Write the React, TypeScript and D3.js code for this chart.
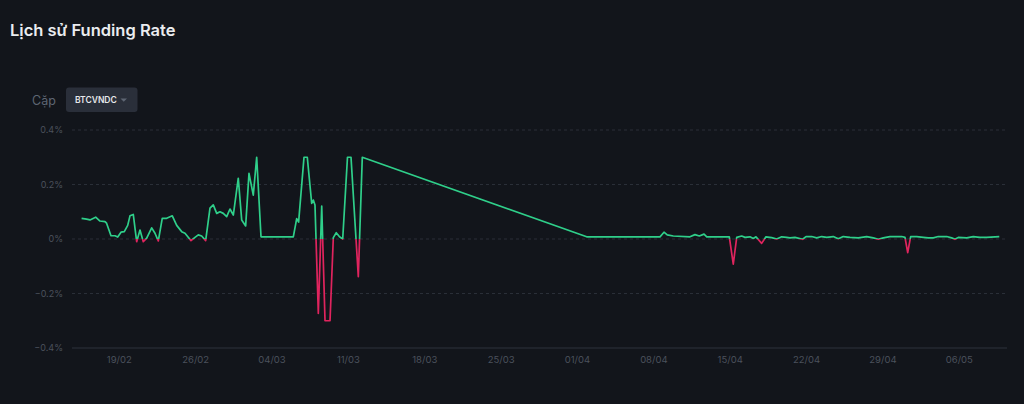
import React from "react";
import * as d3 from "d3";

const title = "Lịch sử Funding Rate";
const pairLabel = "Cặp";
const pairValue = "BTCVNDC";

const times: string[] = [
  "2024-02-15T13:00", "2024-02-16T00:00", "2024-02-16T07:30", "2024-02-16T20:00", "2024-02-17T05:30",
  "2024-02-17T16:30", "2024-02-17T20:00", "2024-02-18T05:45", "2024-02-18T14:30", "2024-02-18T20:30",
  "2024-02-19T03:45", "2024-02-19T11:00", "2024-02-19T18:30", "2024-02-19T23:30", "2024-02-20T06:45",
  "2024-02-20T14:15", "2024-02-20T21:30", "2024-02-21T04:45", "2024-02-21T12:15", "2024-02-21T23:15",
  "2024-02-22T06:30", "2024-02-22T13:50", "2024-02-22T22:30", "2024-02-23T08:15", "2024-02-23T20:35",
  "2024-02-24T06:15", "2024-02-24T17:15", "2024-02-25T00:30", "2024-02-25T13:45", "2024-02-25T22:30",
  "2024-02-26T05:45", "2024-02-26T13:15", "2024-02-26T22:00", "2024-02-27T07:30", "2024-02-27T14:45",
  "2024-02-27T22:15", "2024-02-28T05:30", "2024-02-28T12:45", "2024-02-28T20:15", "2024-02-29T03:30",
  "2024-02-29T10:50", "2024-02-29T21:45", "2024-03-01T05:15", "2024-03-01T14:00", "2024-03-01T21:20",
  "2024-03-02T06:45", "2024-03-02T14:15", "2024-03-02T23:45", "2024-03-05T22:50", "2024-03-06T06:15",
  "2024-03-06T10:30", "2024-03-06T22:20", "2024-03-07T05:35", "2024-03-07T15:15", "2024-03-07T18:50",
  "2024-03-07T22:30", "2024-03-08T05:50", "2024-03-08T13:20", "2024-03-08T20:35", "2024-03-09T07:35",
  "2024-03-09T14:50", "2024-03-09T21:20", "2024-03-10T04:25", "2024-03-10T11:30", "2024-03-10T22:00",
  "2024-03-11T05:45", "2024-03-11T21:50", "2024-03-12T06:35", "2024-04-01T20:15", "2024-04-08T13:30",
  "2024-04-08T22:20", "2024-04-09T05:30", "2024-04-09T18:45", "2024-04-11T07:30", "2024-04-11T18:30",
  "2024-04-12T04:00", "2024-04-12T14:25", "2024-04-12T20:25", "2024-04-14T22:00", "2024-04-15T06:45",
  "2024-04-15T14:20", "2024-04-16T01:15", "2024-04-16T08:35", "2024-04-16T19:30", "2024-04-17T02:50",
  "2024-04-17T08:40", "2024-04-17T21:10", "2024-04-18T06:40", "2024-04-18T19:10", "2024-04-19T06:15",
  "2024-04-19T17:15", "2024-04-20T04:15", "2024-04-20T11:30", "2024-04-20T22:30", "2024-04-21T15:30",
  "2024-04-21T22:45", "2024-04-22T11:15", "2024-04-22T22:15", "2024-04-23T09:15", "2024-04-23T20:15",
  "2024-04-24T10:45", "2024-04-24T21:45", "2024-04-25T08:45", "2024-04-25T23:30", "2024-04-26T17:45",
  "2024-04-27T12:15", "2024-04-28T02:45", "2024-04-28T13:45", "2024-04-29T00:45", "2024-04-29T15:30",
  "2024-04-30T17:15", "2024-05-01T00:30", "2024-05-01T06:30", "2024-05-01T13:00", "2024-05-02T02:15",
  "2024-05-02T16:45", "2024-05-03T03:45", "2024-05-03T14:45", "2024-05-04T01:45", "2024-05-04T20:15",
  "2024-05-05T07:10", "2024-05-05T14:25", "2024-05-05T21:50", "2024-05-06T16:20", "2024-05-07T06:45",
  "2024-05-07T21:35", "2024-05-08T12:15", "2024-05-09T16:00",
];

const rates: number[] = [
  0.076, 0.073, 0.070, 0.080, 0.066,
  0.064, 0.058, 0.012, 0.012, 0.007,
  0.025, 0.027, 0.050, 0.085, 0.090,
  -0.010, 0.033, -0.010, 0.003, 0.041,
  0.021, -0.007, 0.076, 0.076, 0.085,
  0.050, 0.027, 0.021, -0.006, 0.006,
  0.015, 0.011, -0.006, 0.113, 0.125,
  0.094, 0.100, 0.094, 0.082, 0.110,
  0.088, 0.223, 0.070, 0.048, 0.241,
  0.161, 0.300, 0.008, 0.008, 0.075,
  0.062, 0.300, 0.300, 0.131, 0.143,
  0.125, -0.273, 0.121, -0.300, -0.300,
  0.005, 0.023, 0.008, 0.000, 0.300,
  0.300, -0.138, 0.300, 0.008, 0.008,
  0.025, 0.015, 0.011, 0.008, 0.016,
  0.011, 0.018, 0.008, 0.008, -0.092,
  0.006, 0.011, 0.006, 0.008, 0.002,
  0.008, -0.016, 0.008, 0.005, 0.000,
  0.008, 0.006, 0.004, 0.006, -0.001,
  0.009, 0.009, 0.004, 0.009, 0.006,
  0.009, 0.001, 0.009, 0.006, 0.004,
  0.009, 0.004, -0.001, 0.004, 0.009,
  0.009, 0.006, -0.050, 0.009, 0.009,
  0.006, 0.004, 0.004, 0.009, 0.009,
  0.004, -0.001, 0.006, 0.004, 0.009,
  0.006, 0.006, 0.009,
];

const yTicks: number[] = [-0.4, -0.2, 0, 0.2, 0.4];

const W = 1024;
const H = 404;
const BG = "#12151b";
const GREEN = "#2fcf8a";
const RED = "#e0245e";
const GRID = "#2a2f38";
const AXIS_TEXT = "#4b515c";

export default function App() {
  const parse = (s: string) => new Date(s);
  const data = times.map((t, i) => ({ t: parse(t), v: rates[i] }));

  const x = d3
    .scaleTime()
    .domain([parse("2024-02-19T00:00"), parse("2024-05-06T00:00")])
    .range([119.3, 959.3]);
  const y = d3.scaleLinear().domain([-0.4, 0.4]).range([348, 130]);

  const gridX0 = 72;
  const gridX1 = 1007;

  const line = d3
    .line<{ t: Date; v: number }>()
    .x((d) => x(d.t))
    .y((d) => y(d.v));
  const path = line(data) || "";

  const ext = d3.extent(data, (d) => d.t) as [Date, Date];
  const xTicks = d3.timeMonday.range(ext[0], ext[1]);
  const fmt = d3.timeFormat("%d/%m");
  const y0 = y(0);
  const font = "Inter, 'Noto Sans', sans-serif";

  return (
    <svg
      width={W}
      height={H}
      style={{ position: "absolute", left: 0, top: 0, background: BG, display: "block" }}
    >
      <rect x={0} y={0} width={W} height={H} fill={BG} />
      <defs>
        <clipPath id="above">
          <rect x={0} y={0} width={W} height={y0} />
        </clipPath>
        <clipPath id="below">
          <rect x={0} y={y0} width={W} height={H - y0} />
        </clipPath>
      </defs>

      <text x={10} y={36} fill="#eaecef" fontFamily={font} fontSize={16.5} fontWeight={600}>
        {title}
      </text>

      <text x={32} y={104.5} fill="#5e6673" fontFamily={font} fontSize={12.5}>
        {pairLabel}
      </text>
      <rect x={66} y={87.5} width={71.5} height={24.5} rx={3} fill="#2a2f3a" />
      <text x={75} y={103} fill="#e6e8ea" fontFamily={font} fontSize={8.5} fontWeight={600}>
        {pairValue}
      </text>
      <path d="M120.5,98.5 L127,98.5 L123.75,101.8 Z" fill="#5e6673" />

      {yTicks.map((t) => (
        <g key={t}>
          <line
            x1={gridX0}
            x2={gridX1}
            y1={y(t)}
            y2={y(t)}
            stroke={t === -0.4 ? "#2c323d" : GRID}
            strokeWidth={1}
            strokeDasharray={t === -0.4 ? undefined : "3,3"}
          />
          <text
            x={63}
            y={y(t)}
            dy="0.35em"
            textAnchor="end"
            fill={AXIS_TEXT}
            fontFamily={font}
            fontSize={9}
          >
            {`${d3.format("~g")(t)}%`}
          </text>
        </g>
      ))}

      {xTicks.map((t) => (
        <text
          key={t.getTime()}
          x={x(t)}
          y={360}
          dy="0.35em"
          textAnchor="middle"
          fill={AXIS_TEXT}
          fontFamily={font}
          fontSize={9.5}
        >
          {fmt(t)}
        </text>
      ))}

      <path d={path} fill="none" stroke={GREEN} strokeWidth={1.7} strokeLinejoin="round" clipPath="url(#above)" />
      <path d={path} fill="none" stroke={RED} strokeWidth={1.7} strokeLinejoin="round" clipPath="url(#below)" />
    </svg>
  );
}
